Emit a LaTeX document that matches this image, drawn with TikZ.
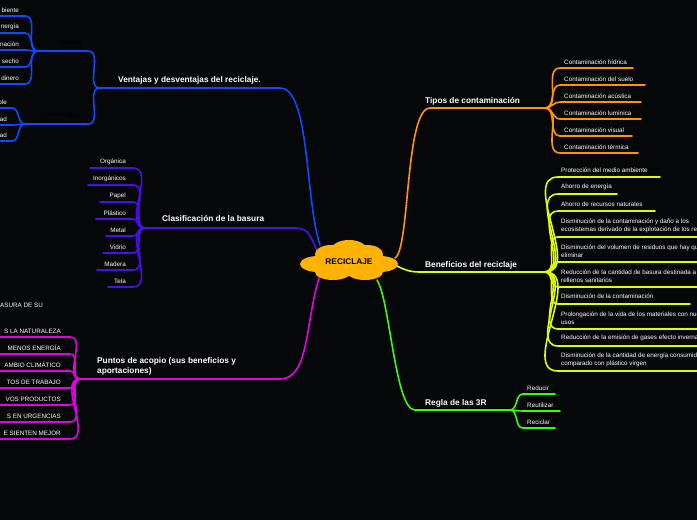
\documentclass[tikz,border=0pt]{standalone}
\usepackage{fontspec}
\setmainfont{Liberation Sans}
\begin{document}
\begin{tikzpicture}[x=1pt,y=-1pt,
  ln/.style={line width=1.6pt,line cap=round},
  sm/.style={font=\fontsize{6.3}{7.3}\selectfont,text=white,inner sep=0pt},
  big/.style={font=\bfseries\fontsize{8.3}{10}\selectfont,text=white,inner sep=0pt,align=left}]
\definecolor{bgc}{HTML}{060709}
\definecolor{cor}{HTML}{FF9500}
\definecolor{cye}{HTML}{DDFF00}
\definecolor{cgr}{HTML}{33FF00}
\definecolor{cbl}{HTML}{0A4CFF}
\definecolor{cpu}{HTML}{4A0FE6}
\definecolor{cma}{HTML}{E600E6}
\definecolor{ccl}{HTML}{FFB300}
\fill[bgc] (0,0) rectangle (697,520);
\useasboundingbox (0,0) rectangle (697,520);
% center
\coordinate (c) at (349,262);
% orange
\coordinate (oh) at (545,108);
\draw[ln,cor] (395,258) .. controls (410,250) and (405,108) .. (430,108) -- (oh);
\node[big,anchor=south west] (ot) at (425,105) {Tipos de contaminación};
\foreach \y/\e/\t in {68/633/Contaminación hídrica,85/645/Contaminación del suelo,102/641/Contaminación acústica,119/641/Contaminación lumínica,136/632/Contaminación visual,153/638/Contaminación térmica}{
  \draw[ln,cor] (oh) to[out=0,in=180] (560,\y) -- (\e,\y);
  \node[sm,anchor=south west] at (564,\y-3) {\t};}
% yellow
\coordinate (yh) at (545,272);
\draw[ln,cye] (397,266) .. controls (405,270) and (410,272) .. (420,272) -- (yh);
\node[big,anchor=south west] (yt) at (425,269) {Beneficios del reciclaje};
\foreach \y/\e in {177/660,194/617,211/655,237/697,262/697,287/697,304/690,329/697,346/697,371/697}{
  \draw[ln,cye] (yh) to[out=0,in=180] (558,\y) -- (\e,\y);}
\foreach \y/\t in {173/Protección del medio ambiente,190/Ahorro de energía,207/Ahorro de recursos naturales,299/Disminución de la contaminación,341/Reducción de la emisión de gases efecto invernadero}{
  \node[sm,anchor=south west] at (561,\y) {\t};}
\foreach \y/\t in {233/{Disminución de la contaminación y daño a los\\ecosistemas derivado de la explotación de los recursos},258/{Disminución del volumen de residuos que hay que\\eliminar},283/{Reducción de la cantidad de basura destinada a\\rellenos sanitarios},325/{Prolongación de la vida de los materiales con nuevos\\usos},367/{Disminución de la cantidad de energía consumida\\comparado con plástico virgen}}{
  \node[sm,anchor=south west,align=left,font=\fontsize{6.3}{8.3}\selectfont] at (561,\y) {\t};}
% green
\coordinate (gh) at (510,410);
\draw[ln,cgr] (377,280) .. controls (390,300) and (395,410) .. (415,410) -- (gh);
\node[big,anchor=south west] (gt) at (425,407) {Regla de las 3R};
\foreach \y/\e/\t in {394/555/Reducir,411/560/Reutilizar,428/555/Reciclar}{
  \draw[ln,cgr] (gh) to[out=0,in=180] (523,\y) -- (\e,\y);
  \node[sm,anchor=south west] at (527,\y-3) {\t};}
% blue
\coordinate (bh) at (100,88);
\draw[ln,cbl] (320,245) .. controls (305,200) and (310,88) .. (280,88) -- (bh);
\node[big,anchor=south west] (bt) at (118,84) {Ventajas y desventajas del reciclaje.};
\coordinate (vh) at (38,51);
\coordinate (dh) at (25,124);
\draw[ln,cbl] (bh) to[out=180,in=0] (88,51) -- (vh);
\draw[ln,cbl] (bh) to[out=180,in=0] (88,124) -- (dh);
\node[font=\fontsize{6.3}{7}\selectfont,text=black,anchor=south] at (70,49) {Ventajas};
\node[font=\fontsize{6.3}{7}\selectfont,text=black,anchor=south] at (62,122) {Desventajas};
\foreach \y/\t in {16/biente,33/nergía,50/nación,67/secho,84/dinero}{
  \draw[ln,cbl] (vh) to[out=180,in=0] (25,\y) -- (0,\y);
  \node[sm,anchor=south east] at (19,\y-3) {\t};}
\foreach \y/\t in {108/ble,125/dad,141/dad}{
  \draw[ln,cbl] (dh) to[out=180,in=0] (12,\y) -- (0,\y);
  \node[sm,anchor=south east] at (7,\y-3) {\t};}
% purple
\coordinate (ph) at (145,228);
\draw[ln,cpu] (320,255) .. controls (310,240) and (312,228) .. (295,228) -- (150,228) -- (ph);
\node[big,anchor=south west] (pt) at (162,222) {Clasificación de la basura};
\foreach \y/\s/\t in {168/90/Orgánica,185/88/Inorgánicos,202/100/Papel,219/96/Plástico,236/106/Metal,253/103/Vidrio,270/97/Madera,287/108/Tela}{
  \draw[ln,cpu] (ph) to[out=180,in=0] (133,\y) -- (\s,\y);
  \node[sm,anchor=south east] at (126,\y-3) {\t};}
% magenta
\coordinate (mh) at (80,379);
\draw[ln,cma] (320,275) .. controls (305,320) and (310,379) .. (280,379) -- (mh);
\node[big,anchor=south west] (mt) at (97,375) {Puntos de acopio (sus beneficios y\\aportaciones)};
\node[sm,anchor=south west] at (0,308) {ASURA DE SU};
\foreach \y/\t in {337/S LA NATURALEZA,354/MENOS ENERGÍA,371/AMBIO CLIMÁTICO,388/TOS DE TRABAJO,405/VOS PRODUCTOS,422/S EN URGENCIAS,439/E SIENTEN MEJOR}{
  \draw[ln,cma] (mh) to[out=180,in=0] (70,\y) -- (0,\y);
  \node[sm,anchor=south east] at (61,\y-3) {\t};}
% cloud
\fill[ccl] (349,250) ellipse (18 and 10) (331,254) ellipse (16 and 9) (367,254) ellipse (16 and 9)
  (318,264) ellipse (18 and 8) (380,264) ellipse (18 and 8) (333,272) ellipse (18 and 8)
  (365,272) ellipse (18 and 8) (349,262) ellipse (40 and 12);
\node[font=\bfseries\fontsize{8.3}{10}\selectfont,text=black] (cl) at (c) {RECICLAJE};
\end{tikzpicture}
\end{document}
